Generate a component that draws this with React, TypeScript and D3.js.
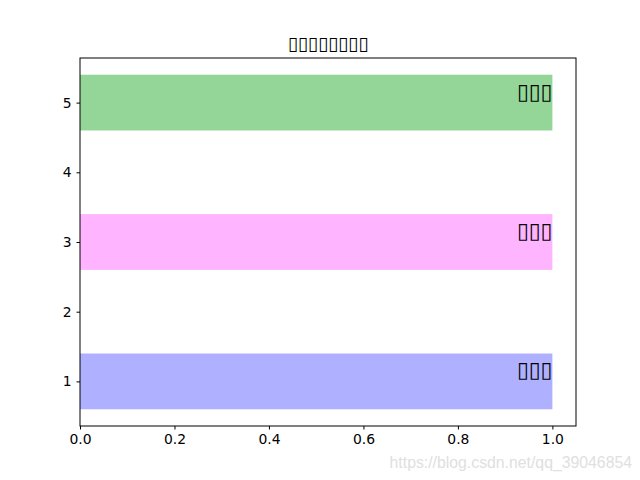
import React, { useRef, useEffect } from "react";
import * as d3 from "d3";

// the original labels were drawn with a font lacking CJK glyphs, so they show as boxes
const titleText = "▯▯▯▯▯▯▯▯";
const positions = [1, 3, 5];
const widths = [1, 1, 1];
const labels = ["▯▯▯", "▯▯▯", "▯▯▯"];
const colors = ["#afb0ff", "#ffb4ff", "#93d698"];
const xTicks = [0, 0.2, 0.4, 0.6, 0.8, 1.0];
const yTicks = [1, 2, 3, 4, 5];
const watermark = "https://blog.csdn.net/qq_39046854";

const W = 640;
const H = 480;
const margin = { top: 58, right: 64, bottom: 54, left: 80 };
const width = W - margin.left - margin.right;
const height = H - margin.top - margin.bottom;
const barH = 0.8;

const App = () => {
  const xAxisRef = useRef<SVGGElement>(null);
  const yAxisRef = useRef<SVGGElement>(null);

  const xScale = d3.scaleLinear().domain([0, 1.05]).range([0, width]);
  const yScale = d3
    .scaleLinear()
    .domain([0.36, 5.64])
    .range([height, 0]);

  useEffect(() => {
    if (xAxisRef.current) {
      d3.select(xAxisRef.current)
        .call(
          d3
            .axisBottom(xScale)
            .tickValues(xTicks)
            .tickFormat(d3.format(".1f"))
            .tickSize(3.5)
            .tickPadding(5)
        )
        .call(g => g.select(".domain").remove())
        .selectAll("text")
        .attr("font-size", 13.9)
        .attr("font-family", "DejaVu Sans")
        .attr("fill", "#000");
    }
    if (yAxisRef.current) {
      d3.select(yAxisRef.current)
        .call(
          d3
            .axisLeft(yScale)
            .tickValues(yTicks)
            .tickFormat(d3.format("d"))
            .tickSize(3.5)
            .tickPadding(5)
        )
        .call(g => g.select(".domain").remove())
        .selectAll("text")
        .attr("font-size", 13.9)
        .attr("font-family", "DejaVu Sans")
        .attr("fill", "#000");
    }
  }, []);

  return (
    <svg
      width={W}
      height={H}
      style={{ display: "block", position: "absolute", left: 0, top: 0 }}
      fontFamily="DejaVu Sans"
    >
      <rect width={W} height={H} fill="#fff" />
      <g transform={`translate(${margin.left},${margin.top})`}>
        {positions.map((p, i) => (
          <rect
            key={i}
            x={xScale(0)}
            y={yScale(p + barH / 2)}
            width={xScale(widths[i]) - xScale(0)}
            height={yScale(p - barH / 2) - yScale(p + barH / 2)}
            fill={colors[i]}
          />
        ))}
        {positions.map((p, i) => (
          <text
            key={i}
            x={xScale(widths[i])}
            y={yScale(p + 0.1)}
            dy={3}
            textAnchor="end"
            fontSize={21.5}
            fill="#000"
          >
            {labels[i]}
          </text>
        ))}
        <rect
          x={0}
          y={0}
          width={width}
          height={height}
          fill="none"
          stroke="#000"
          strokeWidth={1}
        />
        <g ref={xAxisRef} transform={`translate(0,${height})`} />
        <g ref={yAxisRef} />
        <text
          x={width / 2}
          y={-8}
          textAnchor="middle"
          fontSize={18.3}
          fill="#000"
        >
          {titleText}
        </text>
      </g>
      <text
        x={632}
        y={468}
        textAnchor="end"
        fontSize={15.8}
        fontFamily="Liberation Sans"
        fill="#e0e0e0"
      >
        {watermark}
      </text>
    </svg>
  );
};

export default App;
